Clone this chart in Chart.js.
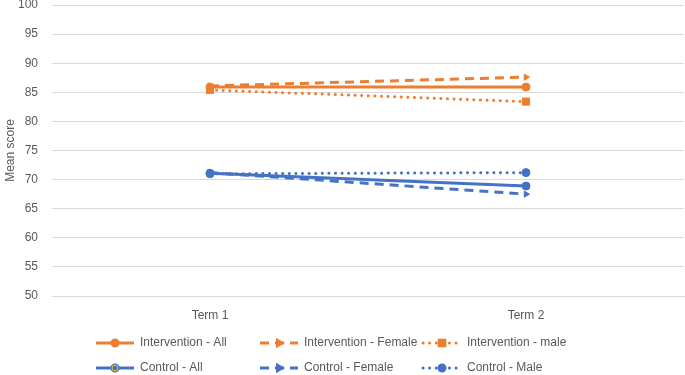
<!DOCTYPE html>
<html>
<head>
<meta charset="utf-8">
<script src="https://cdn.jsdelivr.net/npm/chart.js@4/dist/chart.umd.min.js"></script>
<style>
    html, body { margin: 0; padding: 0; background: #ffffff; }
    #wrap { width: 685px; height: 375px; position: relative; }
</style>
</head>
<body>
<div id="wrap"><canvas id="myChart" width="685" height="375"></canvas></div>
<script>
'use strict';

var termLabels = ['Term 1', 'Term 2'];
var interventionAll = [85.9, 85.9];
var interventionFemale = [86.1, 87.6];
var interventionMale = [85.4, 83.4];
var controlAll = [71.1, 68.9];
var controlFemale = [71.2, 67.5];
var controlMale = [71.0, 71.2];

var orange = '#ED7D31';
var blue = '#4472C4';
var textColor = '#595959';
var fontFamily = "'Liberation Sans', 'DejaVu Sans', sans-serif";

function makeSeries(label, data, color, dash, pointStyle, rotation) {
    var dotted = dash.length > 0 && dash[0] < 1;
    var radius = 4;
    if (pointStyle === 'rect') radius = 5;
    if (pointStyle === 'triangle') radius = 3.5;
    return {
        label: label,
        data: data,
        borderColor: color,
        backgroundColor: color,
        borderWidth: 3,
        borderDash: dash,
        borderCapStyle: dotted ? 'round' : 'butt',
        pointStyle: pointStyle,
        rotation: rotation,
        pointRadius: radius,
        pointBackgroundColor: color,
        pointBorderColor: color,
        pointBorderWidth: 1,
        legendEdge: color,
        fill: false,
        tension: 0
    };
}

var datasets = [
    makeSeries('Intervention - All', interventionAll, orange, [], 'circle', 0),
    makeSeries('Intervention - Female', interventionFemale, orange, [9, 6], 'triangle', 90),
    makeSeries('Intervention - male', interventionMale, orange, [0.1, 6.5], 'rect', 0),
    makeSeries('Control - All', controlAll, blue, [], 'circle', 0),
    makeSeries('Control - Female', controlFemale, blue, [9, 6], 'triangle', 90),
    makeSeries('Control - Male', controlMale, blue, [0.1, 6.5], 'circle', 0)
];
// the legend marker of Control - All has a gold edge
datasets[3].legendEdge = '#FFC000';

// Legend drawn on the canvas in a fixed 3 x 2 grid
var legendPlugin = {
    id: 'gridLegend',
    afterDraw: function (chart) {
        var ctx = chart.ctx;
        var cols = [96, 260, 423];
        var rows = [343, 368];
        ctx.save();
        chart.data.datasets.forEach(function (ds, i) {
            var x = cols[i % 3];
            var y = rows[Math.floor(i / 3)];
            ctx.strokeStyle = ds.borderColor;
            ctx.lineWidth = ds.borderWidth;
            ctx.setLineDash(ds.borderDash);
            ctx.lineCap = ds.borderCapStyle;
            ctx.beginPath();
            ctx.moveTo(x, y);
            ctx.lineTo(x + 38, y);
            ctx.stroke();
            ctx.setLineDash([]);
            ctx.lineCap = 'butt';
            Chart.helpers.drawPoint(ctx, {
                pointStyle: ds.pointStyle,
                rotation: ds.rotation,
                radius: ds.pointStyle === 'rect' ? 4 : 3,
                borderWidth: 1
            }, x + 19, y);
            ctx.fillStyle = ds.pointBackgroundColor;
            ctx.strokeStyle = ds.legendEdge;
            ctx.lineWidth = 1;
            ctx.fill();
            ctx.stroke();
            ctx.fillStyle = textColor;
            ctx.font = '12px ' + fontFamily;
            ctx.textBaseline = 'middle';
            ctx.textAlign = 'left';
            ctx.fillText(ds.label, x + 44, y);
        });
        ctx.restore();
    }
};

var chart = new Chart(document.getElementById('myChart'), {
    type: 'line',
    data: {
        labels: termLabels,
        datasets: datasets
    },
    options: {
        responsive: false,
        animation: false,
        layout: {
            autoPadding: false,
            padding: { top: 0, right: 1, bottom: 49, left: 0 }
        },
        plugins: {
            legend: { display: false },
            tooltip: { enabled: false }
        },
        scales: {
            x: {
                offset: true,
                grid: { display: false, drawTicks: false },
                border: { color: '#d9d9d9', width: 1 },
                ticks: {
                    color: textColor,
                    font: { family: fontFamily, size: 12 },
                    padding: 12
                },
                afterFit: function (scale) {
                    scale.height = 30;
                }
            },
            y: {
                min: 50,
                max: 100,
                ticks: {
                    stepSize: 5,
                    color: textColor,
                    font: { family: fontFamily, size: 12 },
                    padding: 14
                },
                grid: { color: '#d9d9d9', drawTicks: false },
                border: { display: false },
                title: {
                    display: true,
                    text: 'Mean score',
                    color: textColor,
                    font: { family: fontFamily, size: 12 },
                    padding: { top: 3, bottom: 0 }
                },
                afterFit: function (scale) {
                    scale.width = 52;
                    scale.paddingTop = 5;
                }
            }
        }
    },
    plugins: [legendPlugin]
});
</script>
</body>
</html>
